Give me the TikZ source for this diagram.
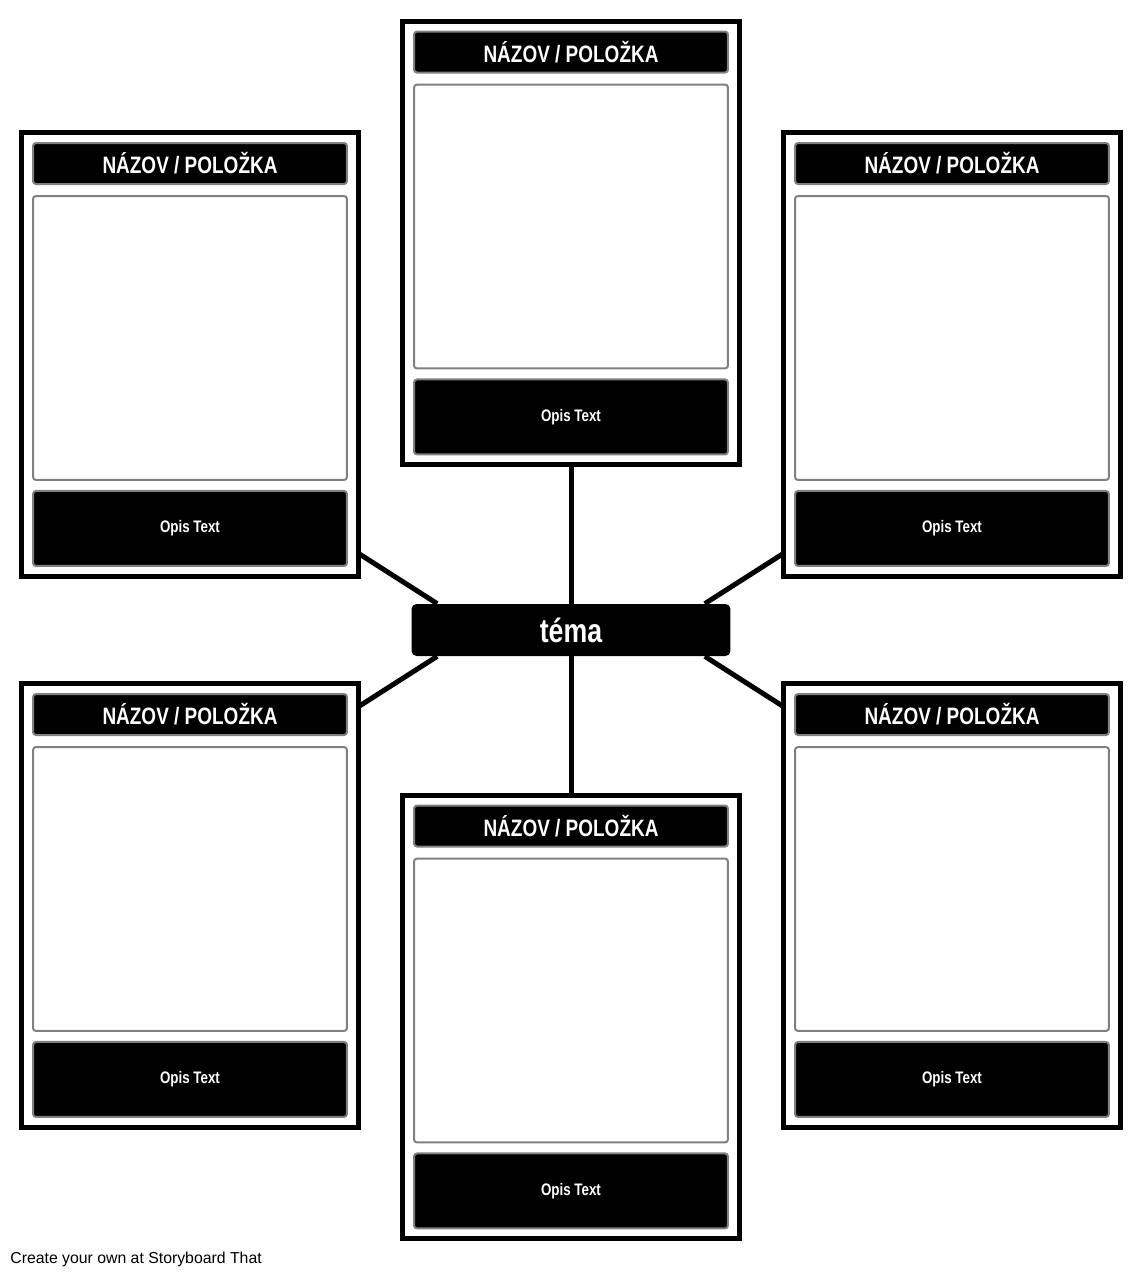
\documentclass[tikz,border=0pt]{standalone}
\usepackage{fontspec}
\setmainfont{Liberation Sans}
\newfontfamily\condfont[FakeStretch=0.8]{Liberation Sans}
\usetikzlibrary{positioning,backgrounds}

\begin{document}
\begin{tikzpicture}[x=0.02cm,y=-0.02cm,
  card/.style={draw,line width=0.1cm,fill=white,minimum width=6.74cm,minimum height=8.88cm,inner sep=0},
  namebar/.style={draw=black!50,fill=black,line width=0.04cm,rounded corners=0.06cm,minimum width=6.28cm,minimum height=0.82cm,inner sep=0,text=white,font=\condfont\bfseries\fontsize{13.5}{16}\selectfont},
  picbox/.style={draw=black!50,fill=white,line width=0.04cm,rounded corners=0.06cm,minimum width=6.28cm,minimum height=5.68cm,inner sep=0},
  descbar/.style={namebar,minimum height=1.5cm,font=\condfont\bfseries\fontsize{9.5}{11}\selectfont},
  topic/.style={fill=black,rounded corners=0.1cm,minimum width=6.38cm,minimum height=1.04cm,inner sep=0,text=white,font=\condfont\bfseries\fontsize{19}{23}\selectfont},
  link/.style={line width=0.1cm},
]

\useasboundingbox (0,0) rectangle (1143,1278);

% topic in the middle
\node[topic] (T) at (571,630) {téma};

% top
\node[card] (A) at (571,243) {};
\node[namebar, below=0.24cm of A.north] (A1) {NÁZOV / POLOŽKA};
\node[picbox, below=0.2cm of A1] (A2) {};
\node[descbar, below=0.18cm of A2] (A3) {Opis Text};

% upper left
\node[card] (B) at (190,354.5) {};
\node[namebar, below=0.24cm of B.north] (B1) {NÁZOV / POLOŽKA};
\node[picbox, below=0.2cm of B1] (B2) {};
\node[descbar, below=0.18cm of B2] (B3) {Opis Text};

% upper right
\node[card] (C) at (952,354.5) {};
\node[namebar, below=0.24cm of C.north] (C1) {NÁZOV / POLOŽKA};
\node[picbox, below=0.2cm of C1] (C2) {};
\node[descbar, below=0.18cm of C2] (C3) {Opis Text};

% lower left
\node[card] (D) at (190,905.5) {};
\node[namebar, below=0.24cm of D.north] (D1) {NÁZOV / POLOŽKA};
\node[picbox, below=0.2cm of D1] (D2) {};
\node[descbar, below=0.18cm of D2] (D3) {Opis Text};

% lower right
\node[card] (E) at (952,905.5) {};
\node[namebar, below=0.24cm of E.north] (E1) {NÁZOV / POLOŽKA};
\node[picbox, below=0.2cm of E1] (E2) {};
\node[descbar, below=0.18cm of E2] (E3) {Opis Text};

% bottom
\node[card] (F) at (571,1017) {};
\node[namebar, below=0.24cm of F.north] (F1) {NÁZOV / POLOŽKA};
\node[picbox, below=0.2cm of F1] (F2) {};
\node[descbar, below=0.18cm of F2] (F3) {Opis Text};

% spokes
\begin{scope}[on background layer]
\draw[link] (A.south) -- (T.north);
\draw[link] (F.north) -- (T.south);
\draw[link, shorten <=-0.2cm] ([yshift=0.48cm]B.south east) -- ([xshift=0.52cm]T.north west);
\draw[link, shorten <=-0.2cm] ([yshift=0.48cm]C.south west) -- ([xshift=-0.52cm]T.north east);
\draw[link, shorten <=-0.2cm] ([yshift=-0.48cm]D.north east) -- ([xshift=0.52cm]T.south west);
\draw[link, shorten <=-0.2cm] ([yshift=-0.48cm]E.north west) -- ([xshift=-0.52cm]T.south east);
\end{scope}

\node[anchor=west, inner sep=0, font=\fontsize{9}{11}\selectfont] (N) at (10,1259) {Create your own at Storyboard That};

\end{tikzpicture}
\end{document}
